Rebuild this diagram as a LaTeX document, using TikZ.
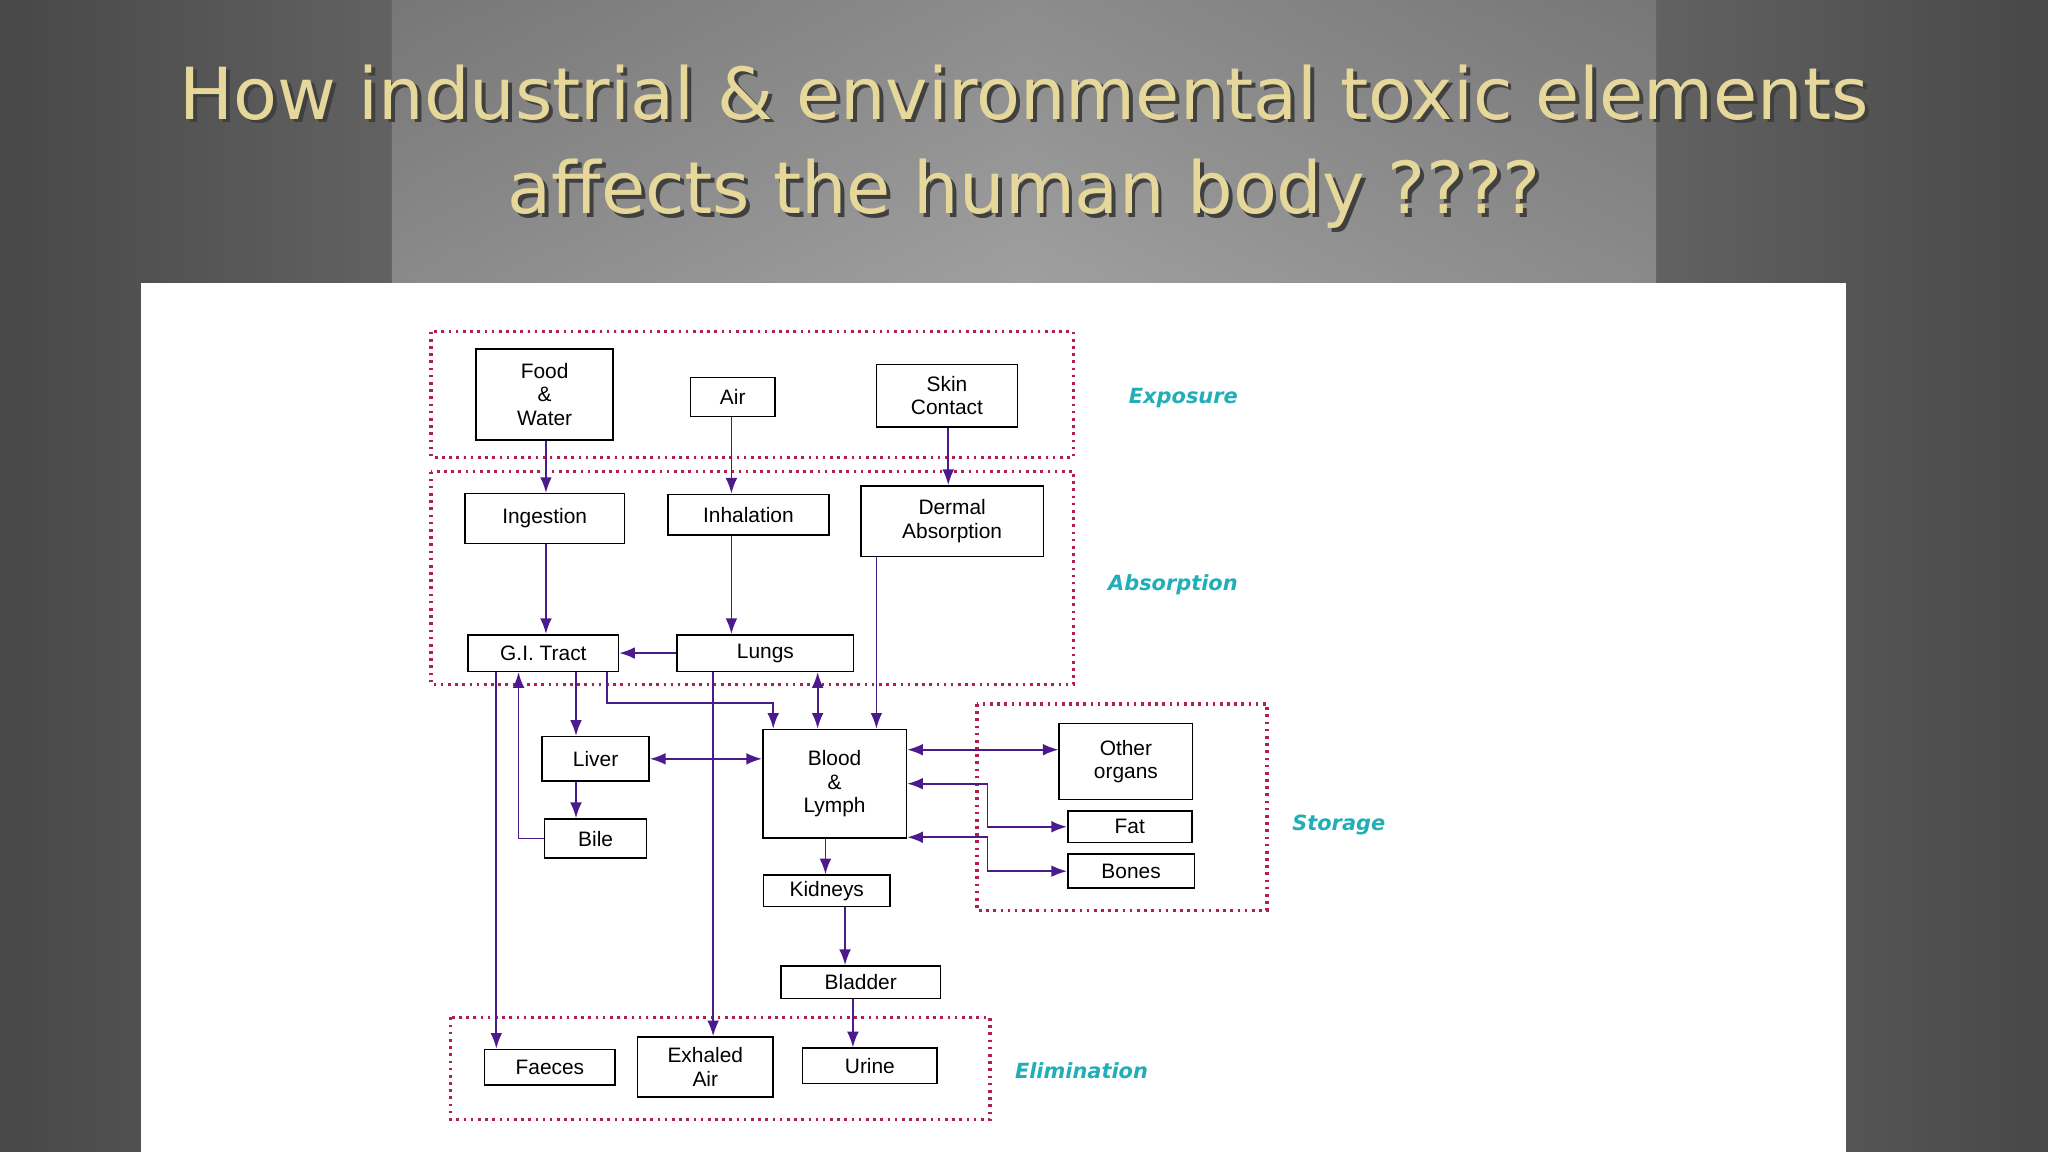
\documentclass[tikz,border=0pt]{standalone}
\usepackage{fontspec}
\setmainfont{Liberation Sans}
\newfontfamily\titlefont{DejaVu Sans}
\usetikzlibrary{arrows.meta,shadows}
\definecolor{arr}{HTML}{4B1A8C}
\definecolor{dotc}{HTML}{B0204A}
\definecolor{lab}{HTML}{22AEB8}
\definecolor{ttl}{HTML}{E6D79A}
\tikzset{
 bx/.style={draw,line width=1.2pt,fill=white,align=center,font=\fontsize{16}{18}\selectfont,inner sep=0pt},
 ar/.style={draw=arr,line width=1.4pt,-{Latex[length=12pt,width=9pt]}},
 dar/.style={draw=arr,line width=1.4pt,{Latex[length=12pt,width=9pt]}-{Latex[length=12pt,width=9pt]}},
 zone/.style={draw=dotc,line width=2.5pt,dash pattern=on 2pt off 3.5pt},
 lbl/.style={text=lab,font=\titlefont\fontsize{16}{19}\selectfont\bfseries\itshape}
}
\begin{document}
\begin{tikzpicture}[x=1pt,y=-1pt]
\useasboundingbox (0,0) rectangle (1568,882);
\shade[left color=black!72,right color=black!72,middle color=black!45] (0,0) rectangle (1568,882);
\shade[top color=black!45,bottom color=black!30,opacity=0.5] (300,0) rectangle (1268,220);
\fill[white] (108,217) rectangle (1413,882);
\node[align=center,text=black!75,font=\titlefont\fontsize{55}{72}\selectfont] (tshadow) at (787,115) {How industrial \& environmental toxic elements\\affects the human body ????};
\node[align=center,text=ttl,font=\titlefont\fontsize{55}{72}\selectfont] (title) at (784,112) {How industrial \& environmental toxic elements\\affects the human body ????};
% zones
\draw[zone] (330,254) rectangle (822,350);
\draw[zone] (330,361) rectangle (822,524);
\draw[zone] (748,539) rectangle (970,697);
\draw[zone] (345,779) rectangle (758,857);
\node[lbl] (lexp) at (906,305) {Exposure};
\node[lbl] (labs) at (898,448) {Absorption};
\node[lbl] (lsto) at (1025,632) {Storage};
\node[lbl] (lelim) at (828,820) {Elimination};
% boxes
\node[bx,minimum width=105,minimum height=70] (food) at (417,302) {Food\\\&\\Water};
\node[bx,minimum width=65,minimum height=30] (air) at (561,304) {Air};
\node[bx,minimum width=108,minimum height=48] (skin) at (725,303) {Skin\\Contact};
\node[bx,minimum width=122,minimum height=38] (ing) at (417,397) {Ingestion};
\node[bx,minimum width=123,minimum height=31] (inh) at (573,394) {Inhalation};
\node[bx,minimum width=140,minimum height=54] (derm) at (729,399) {Dermal\\Absorption};
\node[bx,minimum width=115,minimum height=28] (gi) at (416,500) {G.I. Tract};
\node[bx,minimum width=135,minimum height=28] (lungs) at (586,500) {Lungs};
\node[bx,minimum width=82,minimum height=34] (liver) at (456,581) {Liver};
\node[bx,minimum width=110,minimum height=83] (blood) at (639,600) {Blood\\\&\\Lymph};
\node[bx,minimum width=78,minimum height=30] (bile) at (456,642) {Bile};
\node[bx,minimum width=102,minimum height=58] (other) at (862,583) {Other\\organs};
\node[bx,minimum width=95,minimum height=24] (fat) at (865,633) {Fat};
\node[bx,minimum width=97,minimum height=26] (bones) at (866,667) {Bones};
\node[bx,minimum width=97,minimum height=24] (kid) at (633,682) {Kidneys};
\node[bx,minimum width=122,minimum height=25] (blad) at (659,752) {Bladder};
\node[bx,minimum width=100,minimum height=27] (faec) at (421,817) {Faeces};
\node[bx,minimum width=104,minimum height=46] (exh) at (540,817) {Exhaled\\Air};
\node[bx,minimum width=103,minimum height=27] (urine) at (666,816) {Urine};
% arrows
\draw[ar] (food.south -| 418,0) -- (ing.north -| 418,0);
\draw[ar] (air.south -| 560,0) -- (inh.north -| 560,0);
\draw[ar] (skin.south -| 726,0) -- (derm.north -| 726,0);
\draw[ar] (ing.south -| 418,0) -- (gi.north -| 418,0);
\draw[ar] (inh.south -| 560,0) -- (lungs.north -| 560,0);
\draw[ar] (lungs.west) -- (gi.east);
\draw[ar] (derm.south -| 671,0) -- (blood.north -| 671,0);
\draw[dar] (lungs.south -| 626,0) -- (blood.north -| 626,0);
\draw[ar] (gi.south -| 465,0) -- (465,538) -- (592,538) -- (blood.north -| 592,0);
\draw[ar] (gi.south -| 441,0) -- (liver.north -| 441,0);
\draw[dar] (liver.east) -- (blood.west |- liver.east);
\draw[ar] (liver.south -| 441,0) -- (bile.north -| 441,0);
\draw[ar] (bile.west) -- (397,642) -- (gi.south -| 397,0);
\draw[ar] (gi.south -| 380,0) -- (faec.north -| 380,0);
\draw[ar] (lungs.south -| 546,0) -- (exh.north -| 546,0);
\draw[dar] (blood.east |- 0,574) -- (other.west |- 0,574);
\draw[dar] (blood.east |- 0,600) -- (756,600) -- (756,633) -- (fat.west);
\draw[dar] (blood.east |- 0,641) -- (756,641) -- (756,667) -- (bones.west);
\draw[ar] (blood.south -| 632,0) -- (kid.north -| 632,0);
\draw[ar] (kid.south -| 647,0) -- (blad.north -| 647,0);
\draw[ar] (blad.south -| 653,0) -- (urine.north -| 653,0);
\end{tikzpicture}
\end{document}
